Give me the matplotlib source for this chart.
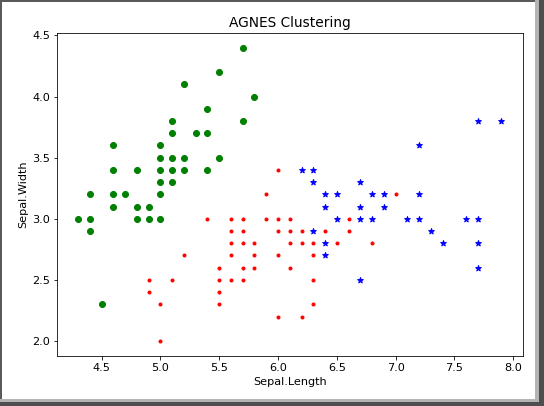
import matplotlib
matplotlib.use("Agg")
import matplotlib.pyplot as plt
from matplotlib.patches import Rectangle

# cluster 1 (green circles)
green_x = [4.3, 4.4, 4.4, 4.4, 4.5, 4.6, 4.6, 4.6, 4.6, 4.7, 4.8, 4.8, 4.8,
           4.9, 4.9, 5.0, 5.0, 5.0, 5.0, 5.0, 5.0, 5.1, 5.1, 5.1, 5.1, 5.1,
           5.2, 5.2, 5.2, 5.3, 5.4, 5.4, 5.4, 5.5, 5.5, 5.7, 5.7, 5.8]
green_y = [3.0, 2.9, 3.0, 3.2, 2.3, 3.1, 3.2, 3.4, 3.6, 3.2, 3.0, 3.1, 3.4,
           3.0, 3.1, 3.0, 3.2, 3.3, 3.4, 3.5, 3.6, 3.3, 3.4, 3.5, 3.7, 3.8,
           3.4, 3.5, 4.1, 3.7, 3.4, 3.7, 3.9, 3.5, 4.2, 3.8, 4.4, 4.0]

# cluster 2 (red dots)
red_x = [4.9, 4.9, 5.0, 5.0, 5.1, 5.2, 5.4, 5.5, 5.5, 5.5, 5.5, 5.6, 5.6,
         5.6, 5.6, 5.6, 5.7, 5.7, 5.7, 5.7, 5.7, 5.8, 5.8, 5.8, 5.9, 5.9,
         6.0, 6.0, 6.0, 6.0, 6.0, 6.1, 6.1, 6.1, 6.1, 6.2, 6.2, 6.2, 6.3,
         6.3, 6.3, 6.3, 6.4, 6.5, 6.6, 6.6, 6.8, 7.0]
red_y = [2.4, 2.5, 2.0, 2.3, 2.5, 2.7, 3.0, 2.3, 2.4, 2.5, 2.6, 2.5, 2.7,
         2.8, 2.9, 3.0, 2.5, 2.6, 2.8, 2.9, 3.0, 2.6, 2.7, 2.8, 3.0, 3.2,
         2.2, 2.7, 2.9, 3.0, 3.4, 2.6, 2.8, 2.9, 3.0, 2.2, 2.8, 2.9, 2.3,
         2.5, 2.7, 2.8, 2.9, 2.8, 2.9, 3.0, 2.8, 3.2]

# cluster 3 (blue stars)
blue_x = [6.2, 6.3, 6.3, 6.7, 6.4, 6.5, 6.8, 6.9, 7.2, 6.4, 6.7, 6.9, 6.5,
          6.7, 6.8, 7.1, 7.2, 7.6, 7.7, 6.3, 6.4, 6.4, 6.7, 7.3, 7.4, 7.7,
          7.7, 7.2, 7.7, 7.9]
blue_y = [3.4, 3.4, 3.3, 3.3, 3.2, 3.2, 3.2, 3.2, 3.2, 3.1, 3.1, 3.1, 3.0,
          3.0, 3.0, 3.0, 3.0, 3.0, 3.0, 2.9, 2.8, 2.7, 2.5, 2.9, 2.8, 2.8,
          2.6, 3.6, 3.8, 3.8]

plt.rcParams['font.size'] = 11.3
plt.rcParams['axes.titlesize'] = 13.8

W, H = 544, 406
fig = plt.figure(figsize=(W / 72, H / 72), dpi=72)
ax = fig.add_axes([57 / W, 1 - 355.7 / H, 465.5 / W, 322.7 / H])

ax.scatter(green_x, green_y, c="green", marker="o")
ax.scatter(red_x, red_y, c="red", marker=".")
ax.scatter(blue_x, blue_y, c="blue", marker="*")

ax.set_title("AGNES Clustering")
ax.set_xlabel("Sepal.Length")
ax.set_ylabel("Sepal.Width")


# window frame of the screenshot
def frame(x0, y0, x1, y1, color):
    fig.add_artist(Rectangle((x0 / W, 1 - y1 / H), (x1 - x0) / W, (y1 - y0) / H,
                             transform=fig.transFigure, facecolor=color,
                             edgecolor="none"))


frame(0, 0, W, 2, "#5a5a5a")
frame(0, 0, 2, H, "#5a5a5a")
frame(535, 0, 539, H, "#b4b4b4")
frame(0, 399, W, 402, "#b4b4b4")
frame(539, 0, W, H, "#4e4e4e")
frame(0, 402, W, H, "#4e4e4e")

fig.savefig("out.png", dpi=72)
